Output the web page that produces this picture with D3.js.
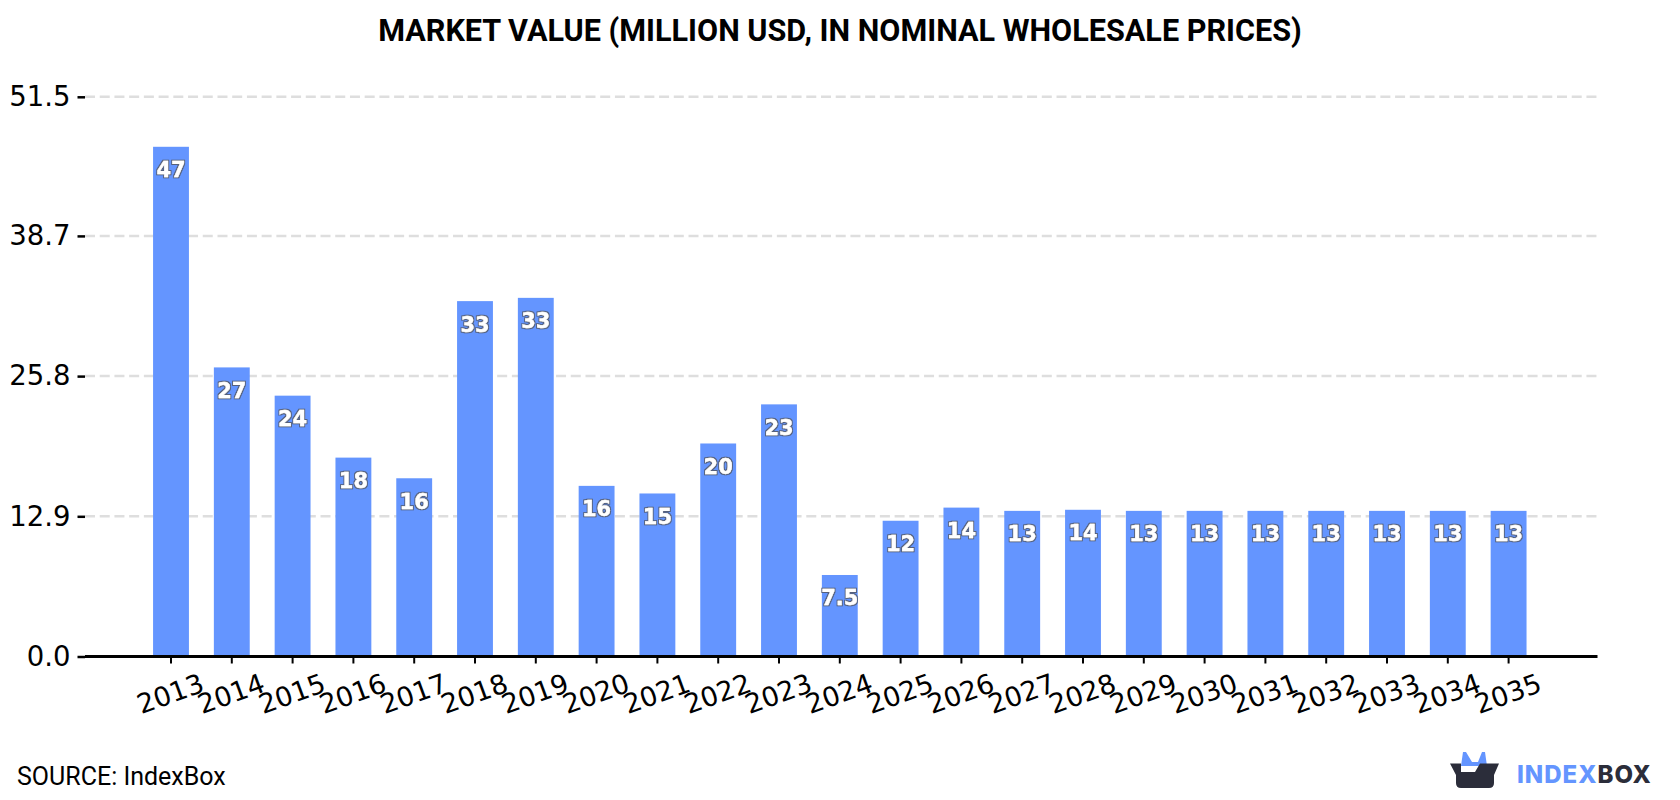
<!DOCTYPE html>
<html>
<head>
<meta charset="utf-8">
<script src="https://cdn.jsdelivr.net/npm/d3@7"></script>
<style>
html,body{margin:0;padding:0;background:#fff}
svg{display:block}
</style>
</head>
<body>
<svg id="chart" width="1680" height="800"></svg>
<script>
const years = [2013,2014,2015,2016,2017,2018,2019,2020,2021,2022,2023,2024,2025,2026,2027,2028,2029,2030,2031,2032,2033,2034,2035];
const marketValue = [46.9,26.6,24.0,18.3,16.4,32.7,33.0,15.7,15.0,19.6,23.2,7.5,12.49,13.7,13.4,13.5,13.4,13.4,13.4,13.4,13.4,13.4,13.4];
const yTicks = [0,12.9,25.8,38.7,51.5];

const svg = d3.select("#chart");
const plotLeft = 85, plotRight = 1597.5, plotTop = 96.8, plotBottom = 656.5;

const x = d3.scaleBand().domain(years).range([140.6,1539]).paddingInner(0.41).paddingOuter(0.205);
const y = d3.scaleLinear().domain([0,51.5]).range([plotBottom,plotTop]);

// Slate rim around the white labels sitting on the bars
const defs = svg.append("defs");
const halo = defs.append("filter").attr("id","halo").attr("x","-20%").attr("y","-20%").attr("width","140%").attr("height","140%");
halo.append("feMorphology").attr("in","SourceAlpha").attr("operator","dilate").attr("radius",1).attr("result","outer");
halo.append("feFlood").attr("flood-color","#55617c").attr("result","rim");
halo.append("feComposite").attr("in","rim").attr("in2","outer").attr("operator","in").attr("result","rimShape");
const haloMerge = halo.append("feMerge");
haloMerge.append("feMergeNode").attr("in","rimShape");
haloMerge.append("feMergeNode").attr("in","SourceGraphic");

svg.append("text").attr("x",840).attr("y",41).attr("text-anchor","middle")
  .style("font","700 30.6px Roboto").attr("fill","#000")
  .text("MARKET VALUE (MILLION USD, IN NOMINAL WHOLESALE PRICES)");

// Dashed horizontal grid behind the bars
svg.append("g").selectAll("line").data(yTicks.filter(d=>d>0)).join("line")
  .attr("x1",plotLeft).attr("x2",plotRight).attr("y1",d=>y(d)).attr("y2",d=>y(d))
  .attr("stroke","#dedede").attr("stroke-width",2.5).attr("stroke-dasharray","10 4.72");

svg.append("g").selectAll("rect").data(marketValue).join("rect")
  .attr("x",(d,i)=>x(years[i])).attr("width",x.bandwidth())
  .attr("y",d=>y(d)).attr("height",d=>plotBottom-y(d))
  .attr("fill","#6495ff");

// Value axis
const yAxis = d3.axisLeft(y).tickValues(yTicks).tickSize(7.5).tickPadding(7)
  .tickFormat(d3.format(".1f"));
const gy = svg.append("g").attr("transform",`translate(${plotLeft},0)`).call(yAxis);
gy.select(".domain").remove();
gy.selectAll("line").attr("stroke","#000").attr("stroke-width",2.5);
gy.selectAll("text").style("font","27.5px 'DejaVu Sans'").attr("fill","#000");

// Year axis with tilted labels
const xAxis = d3.axisBottom(x).tickSize(7).tickSizeOuter(0).tickPadding(9);
const gx = svg.append("g").attr("transform",`translate(0,${plotBottom})`).call(xAxis);
gx.select(".domain").remove();
gx.selectAll("line").attr("stroke","#000").attr("stroke-width",2);
gx.selectAll("text").style("font","27px 'DejaVu Sans'").attr("fill","#000")
  .attr("text-anchor","middle").attr("dy",0).attr("y",0)
  .attr("transform","translate(0,39) rotate(-20)").attr("dominant-baseline","middle");
svg.append("line").attr("x1",plotLeft).attr("x2",plotRight).attr("y1",plotBottom).attr("y2",plotBottom)
  .attr("stroke","#000").attr("stroke-width",3);

// Value labels inside each bar
const valueLabel = d3.format(".2r");
svg.append("g").selectAll("text").data(marketValue).join("text")
  .attr("x",(d,i)=>x(years[i])+x.bandwidth()/2).attr("y",d=>y(d)+30.5)
  .attr("text-anchor","middle")
  .style("font","700 21px 'DejaVu Sans'")
  .attr("fill","#fff").attr("stroke","#fff").attr("stroke-width",0.3).attr("filter","url(#halo)")
  .text(d=>valueLabel(d));

svg.append("text").attr("x",17).attr("y",784.5)
  .style("font","400 25px Roboto").attr("fill","#000").text("SOURCE: IndexBox");

// Brand mark: open box with a blue shape rising from it
const logo = svg.append("g");
logo.append("path").attr("fill","#6495ff")
  .attr("d","M1461 766L1463 752L1466 752L1472 762L1478 762L1482 752L1485 752L1487 766Z");
logo.append("path").attr("fill","#2b2d3a")
  .attr("d","M1450 763.5L1461 763.5L1461 772L1475 772L1480 763.5L1499 763.5L1494 775L1494 783Q1494 788 1489 788L1461 788Q1456 788 1456 783L1456 775Z");
logo.append("text").attr("x",1517).attr("y",782.5).style("font","800 24px Inter").attr("letter-spacing","1px")
  .attr("fill","#6495ff").text("INDEX")
  .append("tspan").attr("fill","#2b2d3a").text("BOX");
</script>
</body>
</html>
